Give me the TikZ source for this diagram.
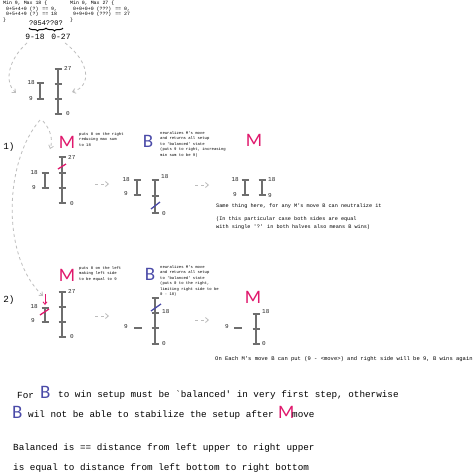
\documentclass[tikz,border=0pt]{standalone}
\usepackage{fontspec}
\newfontfamily\monof{Liberation Mono}
\newfontfamily\letf{Carlito}
\usetikzlibrary{arrows.meta,decorations.pathreplacing}
\definecolor{mred}{HTML}{E0186C}
\definecolor{bblue}{HTML}{4A4AA8}
\definecolor{barc}{HTML}{6E6E6E}
\definecolor{dashc}{HTML}{BDBDBD}
\newcommand\fs[2]{\fontsize{#1}{#2}\selectfont}
\tikzset{
 bar/.style={draw=barc,line width=1.1pt},
 num/.style={font=\monof\fs{6}{6}, inner sep=0pt, text=black!85},
 ann/.style={font=\monof\fs{3.9}{5.5}, inner sep=0pt, align=left, anchor=north west},
 code/.style={font=\monof\fs{4.9}{5.6}, inner sep=0pt, align=left, anchor=north west},
 note/.style={font=\monof\fs{5.2}{6}, inner sep=0pt, anchor=west},
 big/.style={font=\monof\fs{9.3}{11}, inner sep=0pt, anchor=west},
 Mlet/.style={font=\letf\fs{19}{19}, text=mred, inner sep=0pt},
 Blet/.style={font=\letf\fs{19}{19}, text=bblue, inner sep=0pt},
 flow/.style={draw=dashc, dashed, line width=0.8pt, -{Straight Barb[length=3pt,width=5pt]}},
 slashr/.style={draw=mred, line width=1.3pt},
 slashb/.style={draw=bblue, line width=1.3pt},
 brc/.style={decorate, decoration={brace, mirror, amplitude=3pt}, line width=1pt},
}
\newcommand\ivb[3]{\draw[bar] (#1,#2)--(#1,#3) (#1-3.5,#2)--(#1+3.5,#2) (#1-3.5,#3)--(#1+3.5,#3);}
\newcommand\itk[2]{\draw[bar] (#1-3.5,#2)--(#1+3.5,#2);}
\begin{document}
\begin{tikzpicture}[x=1pt,y=-1pt]
\useasboundingbox[fill=white] (0,0) rectangle (474,475);
% top code
\node[code] (c1) at (3,1) {Min 9, Max 18 \{\\\phantom{0}0+5+4+0 (?) == 9,\\\phantom{0}0+5+4+9 (?) == 18\\\}};
\node[code] (c2) at (70,1) {Min 0, Max 27 \{\\\phantom{0}0+0+0+0 (???) == 0,\\\phantom{0}9+9+0+9 (???) == 27\\\}};
\node[font=\monof\fs{7}{7}, inner sep=0pt] (q) at (46,23) {?054??0?};
\draw[brc] (29,28) -- (46,28);
\draw[brc] (46,28) -- (63,28);
\node[font=\monof\fs{8}{8}, inner sep=0pt] (r1) at (35,37) {9-18};
\node[font=\monof\fs{8}{8}, inner sep=0pt] (r2) at (61,37) {0-27};
% flows
\draw[flow] (r1.south) ++(-8,3) .. controls (8,60) and (4,82) .. (16,93);
\draw[flow] (r2.south) ++(4,3) .. controls (90,62) and (92,86) .. (72,92);
\draw[flow] (40,120) .. controls (5,160) and (0,255) .. (43,296);
\draw[flow] (43,121) .. controls (51,130) and (53,140) .. (50,149);
% diagram 0
\ivb{40}{83}{99}
\ivb{58}{69}{114} \itk{58}{84} \itk{58}{99}
\node[num,anchor=east] at (35,83) {18};
\node[num,anchor=east] at (33,99) {9};
\node[num,anchor=west] at (64,68) {27};
\node[num,anchor=west] at (66,114) {0};
% 1)
\node[font=\monof\fs{9.3}{9.3}, inner sep=0pt] at (9,147) {1)};
\node[Mlet] at (67,142) {M};
\node[ann] at (79,132) {puts 0 on the right\\reducing max sum\\to 18};
\ivb{45}{173}{188}
\ivb{62}{157}{203} \itk{62}{173} \itk{62}{188}
\draw[slashr] (58,169) -- (66,164);
\node[num,anchor=east] at (38,173) {18};
\node[num,anchor=east] at (36,188) {9};
\node[num,anchor=west] at (68,157) {27};
\node[num,anchor=west] at (70,204) {0};
\draw[flow] (95,184) -- (109,184);
% 1b
\node[Blet] at (148,141) {B};
\node[ann] at (160,131) {neuralizes M's move\\and returns all setup\\to 'balanced' state\\(puts 9 to right, increasing\\min sum to be 9)};
\ivb{137}{180}{195}
\ivb{155}{180}{213} \itk{155}{196}
\draw[slashb] (151,209) -- (160,202);
\node[num,anchor=east] at (130,180) {18};
\node[num,anchor=east] at (128,194) {9};
\node[num,anchor=west] at (161,177) {18};
\node[num,anchor=west] at (162,214) {0};
\draw[flow] (195,185) -- (209,185);
% 1c
\node[Mlet] at (254,140) {M};
\ivb{245}{180}{195}
\ivb{262}{180}{195}
\node[num,anchor=east] at (239,180) {18};
\node[num,anchor=east] at (237,195) {9};
\node[num,anchor=west] at (268,180) {18};
\node[num,anchor=west] at (268,196) {9};
\node[note] at (216,206) {Same thing here, for any M's move B can neutralize it};
\node[note] at (216,219) {(In this particular case both sides are equal};
\node[note] at (216,227) {with single '?' in both halves also means B wins)};
% 2)
\node[font=\monof\fs{9.3}{9.3}, inner sep=0pt] at (9,300) {2)};
\node[Mlet] at (67,275) {M};
\node[ann] at (79,266) {puts 0 on the left\\making left side\\to be equal to 9};
\draw[mred, line width=0.9pt, -{Straight Barb[length=2.5pt,width=4pt]}] (45,294) -- (45,305);
\ivb{45}{308}{322}
\draw[slashr] (40,315) -- (49,309);
\ivb{62}{292}{337} \itk{62}{307} \itk{62}{322}
\node[num,anchor=east] at (38,307) {18};
\node[num,anchor=east] at (35,321) {9};
\node[num,anchor=west] at (68,291) {27};
\node[num,anchor=west] at (70,337) {0};
\draw[flow] (95,316) -- (109,316);
% 2b
\node[Blet] at (150,274) {B};
\node[ann] at (160,265) {neuralizes M's move\\and returns all setup\\to 'balanced' state\\(puts 0 to the right,\\limiting right side to be\\0 - 18)};
\draw[bar] (134,328) -- (142,328);
\node[num,anchor=east] at (128,327) {9};
\ivb{155}{298}{344} \itk{155}{313} \itk{155}{328}
\draw[slashb] (151,311) -- (161,304);
\node[num,anchor=west] at (162,312) {18};
\node[num,anchor=west] at (162,344) {0};
\draw[flow] (195,320) -- (209,320);
% 2c
\node[Mlet] at (253,297) {M};
\draw[bar] (234,328) -- (242,328);
\node[num,anchor=east] at (229,327) {9};
\ivb{256}{314}{344} \itk{256}{329}
\node[num,anchor=west] at (262,312) {18};
\node[num,anchor=west] at (262,344) {0};
\node[note, font=\monof\fs{5.5}{6}] at (215,359) {On Each M's move B can put (9 - <move>) and right side will be 9, B wins again};
% bottom
\node[big] at (17,395) {For};
\node[Blet,anchor=west] at (40,392) {B};
\node[big] at (58,395) {to win setup must be `balanced' in very first step, otherwise};
\node[Blet,anchor=west] at (12,412) {B};
\node[big] at (28,415) {wil not be able to stabilize the setup after};
\node[Mlet,anchor=west] at (278,412) {M};
\node[big] at (292,415) {move};
\node[big] at (13,448) {Balanced is == distance from left upper to right upper};
\node[big] at (13,468) {is equal to distance from left bottom to right bottom};
\end{tikzpicture}
\end{document}
